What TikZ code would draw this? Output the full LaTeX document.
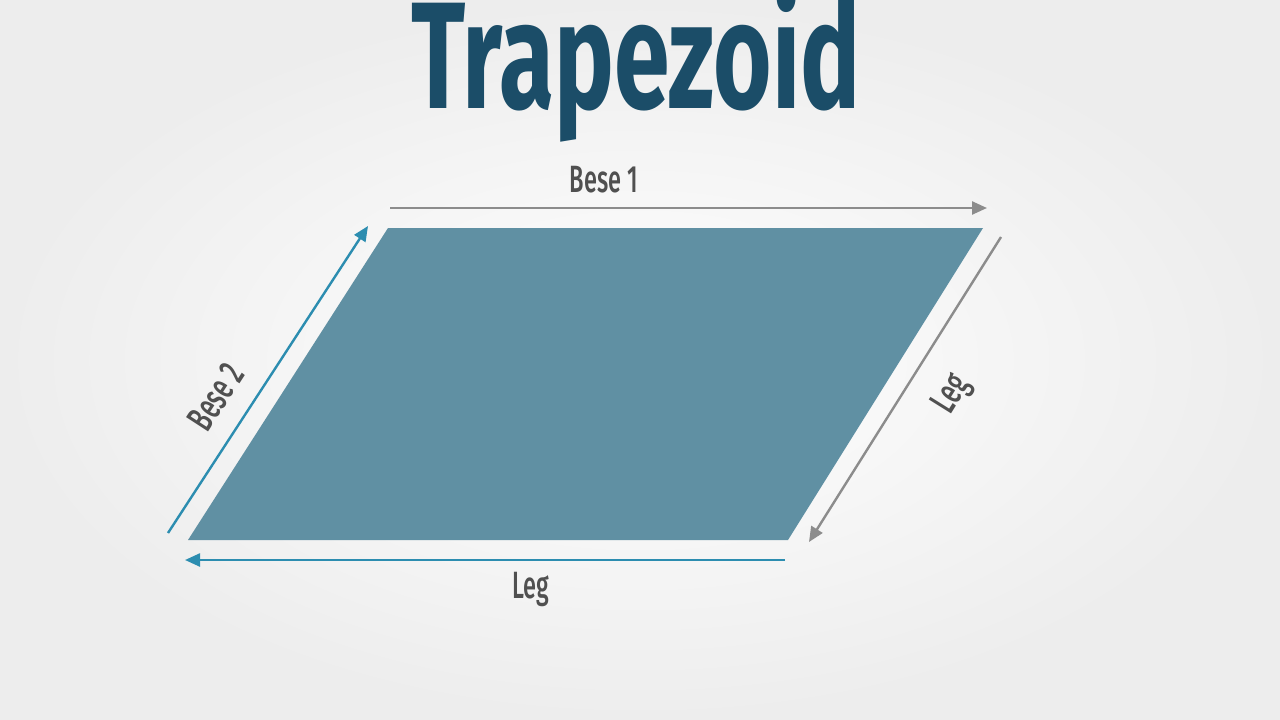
\documentclass[tikz,border=0pt]{standalone}
\usepackage{fontspec}
\usepackage{xcolor}
\usetikzlibrary{
    arrows.meta,
    positioning,
    calc
}
\newfontfamily\condfont[FakeStretch=0.62]{Fira Sans Medium}
\newfontfamily\titlefont[FakeStretch=0.66]{Fira Sans Bold}
\definecolor{titleblue}{HTML}{1B4D68}
\definecolor{shapefill}{HTML}{6090A3}
\definecolor{legteal}{HTML}{2C8DB0}
\definecolor{dimgray}{HTML}{8C8C8C}
\definecolor{labelgray}{HTML}{505050}
\definecolor{bggray}{HTML}{EDEDED}
\tikzset{
    % Title style
    title text/.style={
        font=\titlefont\fontsize{152}{152}\selectfont,
        text=titleblue,
        inner sep=0pt
    },
    % Side label style
    side label/.style={
        font=\condfont\fontsize{38}{38}\selectfont,
        text=labelgray,
        inner sep=1pt
    },
    % Measuring arrow
    measure/.style={
        -{Triangle[length=15pt, width=13pt]},
        line width=2.4pt,
        color=#1
    },
    % Shape style
    shape body/.style={
        fill=shapefill
    }
}
\begin{document}
\begin{tikzpicture}[x=1pt, y=-1pt]
    % Background
    \shade[inner color=white, outer color=bggray] (0,0) rectangle (1280,720);
    \useasboundingbox (0,0) rectangle (1280,720);

    % Title
    \node[title text, anchor=base] (title) at (636,108) {Trapezoid};

    % Corners
    \coordinate (tl) at (388,228);
    \coordinate (tr) at (983,228);
    \coordinate (br) at (788,540);
    \coordinate (bl) at (188,540);
    \fill[shape body] (tl) -- (tr) -- (br) -- (bl) -- cycle;

    % Arrow ends
    \coordinate (topA) at (390,208);
    \coordinate (topB) at (987,208);
    \coordinate (leftA) at (168,533);
    \coordinate (leftB) at (368,226);
    \coordinate (rightA) at (1001,237);
    \coordinate (rightB) at (809,542);
    \coordinate (botA) at (785,560);
    \coordinate (botB) at (185,560);

    % Arrows
    \draw[measure=dimgray] (topA) -- (topB);
    \draw[measure=legteal] (leftA) -- (leftB);
    \draw[measure=dimgray] (rightA) -- (rightB);
    \draw[measure=legteal] (botA) -- (botB);

    % Labels
    \node[side label] (base1) at (604,180) {Bese 1};
    \node[side label, rotate=57] (base2) at (216,397) {Bese 2};
    \node[side label, rotate=58] (legR) at (953,395) {Leg};
    \node[side label] (legB) at (531,590) {Leg};
\end{tikzpicture}
\end{document}
